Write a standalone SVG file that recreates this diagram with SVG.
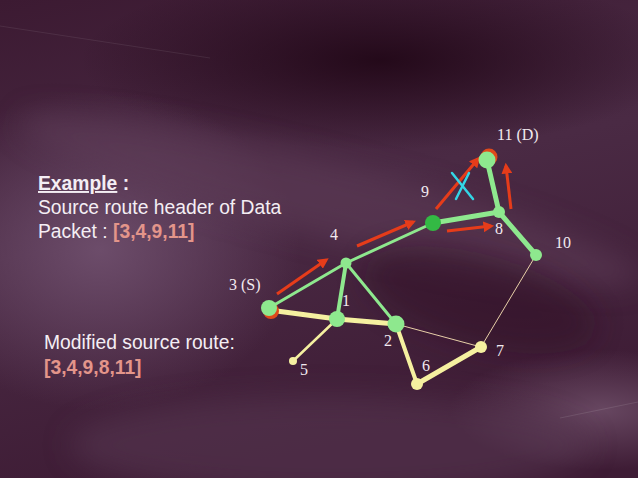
<svg xmlns="http://www.w3.org/2000/svg" width="638" height="478" viewBox="0 0 638 478">
  <defs>
    <style>
      .lbl { font-family: "Liberation Serif", "DejaVu Serif", serif; font-size: 16px; fill: #f2eaf0; }
      .txt { font-family: "Liberation Sans", Arial, sans-serif; font-size: 19.3px; fill: #f4eef4; }
      .hl { font-weight: bold; fill: #e3958a; }
      .g { stroke: #8ee88e; stroke-linecap: round; fill: none; }
      .y { stroke: #f5f0a0; stroke-linecap: round; fill: none; }
      .thin { stroke: #e8d0a8; stroke-width: 1; fill: none; }
      .arr { stroke: #e63c1a; stroke-width: 3; fill: none; marker-end: url(#ah); }
      .ng { fill: #8ee88e; }
      .ny { fill: #f5f0a0; }
    </style>
    <marker id="ah" viewBox="0 0 10 10" refX="7" refY="5" markerWidth="3.6" markerHeight="3.6" orient="auto" markerUnits="strokeWidth">
      <path d="M0,0 L10,5 L0,10 z" fill="#e63c1a"/>
    </marker>
    <linearGradient id="bg" x1="0" y1="0" x2="0.3" y2="1">
      <stop offset="0" stop-color="#3c1a32"/>
      <stop offset="0.5" stop-color="#4a2a44"/>
      <stop offset="1" stop-color="#3e1c35"/>
    </linearGradient>
    <radialGradient id="lightL" cx="0.5" cy="0.5" r="0.5">
      <stop offset="0" stop-color="#6e4e6c" stop-opacity="0.95"/>
      <stop offset="1" stop-color="#6e4e6c" stop-opacity="0"/>
    </radialGradient>
    <radialGradient id="darkT" cx="0.5" cy="0.5" r="0.5">
      <stop offset="0" stop-color="#220818" stop-opacity="0.95"/>
      <stop offset="1" stop-color="#220818" stop-opacity="0"/>
    </radialGradient>
    <radialGradient id="lightBR" cx="0.5" cy="0.5" r="0.5">
      <stop offset="0" stop-color="#6c4c66" stop-opacity="0.9"/>
      <stop offset="1" stop-color="#6c4c66" stop-opacity="0"/>
    </radialGradient>
    <filter id="blur" x="-50%" y="-50%" width="200%" height="200%">
      <feGaussianBlur stdDeviation="14"/>
    </filter>
  </defs>

  <g id="background">
    <rect width="638" height="478" fill="url(#bg)"/>
    <ellipse cx="380" cy="60" rx="300" ry="90" fill="url(#darkT)"/>
    <ellipse cx="100" cy="250" rx="200" ry="160" fill="url(#lightL)"/>
    <ellipse cx="330" cy="200" rx="320" ry="38" fill="#5e3e58" opacity="0.55" filter="url(#blur)" transform="rotate(14 330 200)"/>
    <ellipse cx="600" cy="410" rx="150" ry="60" fill="url(#lightBR)"/>
    <ellipse cx="330" cy="445" rx="260" ry="50" fill="#5a3a55" opacity="0.5" filter="url(#blur)"/>
    <ellipse cx="480" cy="300" rx="120" ry="45" fill="#2e1024" opacity="0.45" filter="url(#blur)" transform="rotate(15 480 300)"/>
    <line x1="0" y1="26" x2="210" y2="58" stroke="#ffffff" stroke-opacity="0.08" stroke-width="1.2"/>
    <line x1="560" y1="418" x2="638" y2="402" stroke="#ffffff" stroke-opacity="0.1" stroke-width="1.2"/>
  </g>

  <g id="connectors">
    <line class="thin" x1="396" y1="324" x2="481" y2="347"/>
    <line class="thin" x1="481" y1="347" x2="536" y2="255"/>
    <line class="y" x1="269" y1="310" x2="337" y2="319" stroke-width="5"/>
    <line class="y" x1="337" y1="319" x2="396" y2="324" stroke-width="5"/>
    <line class="y" x1="337" y1="319" x2="293" y2="361" stroke-width="2.5"/>
    <line class="y" x1="396" y1="324" x2="417" y2="384" stroke-width="4"/>
    <line class="y" x1="417" y1="384" x2="481" y2="347" stroke-width="5"/>
    <line class="g" x1="269" y1="308" x2="346" y2="263" stroke-width="3"/>
    <line class="g" x1="346" y1="263" x2="433" y2="223" stroke-width="3"/>
    <line class="g" x1="346" y1="263" x2="337" y2="319" stroke-width="4"/>
    <line class="g" x1="346" y1="263" x2="396" y2="324" stroke-width="3"/>
    <line class="g" x1="433" y1="223" x2="499" y2="212" stroke-width="5"/>
    <line class="g" x1="499" y1="212" x2="487" y2="160" stroke-width="5"/>
    <line class="g" x1="499" y1="212" x2="536" y2="255" stroke-width="5"/>
    <line class="arr" x1="277" y1="294" x2="326" y2="260"/>
    <line class="arr" x1="357" y1="246" x2="413" y2="222"/>
    <line class="arr" x1="447" y1="231" x2="491" y2="226"/>
    <line class="arr" x1="436" y1="209" x2="478" y2="159"/>
    <line class="arr" x1="511" y1="209" x2="506" y2="166"/>
    <g id="cross" stroke="#33d6e6" stroke-width="2.5" stroke-linecap="round">
      <line x1="452" y1="173" x2="473" y2="199"/>
      <line x1="469" y1="173" x2="456" y2="199"/>
    </g>
  </g>

  <g id="n3"><circle cx="271" cy="311" r="8" fill="#e04a1a"/><circle class="ng" cx="269" cy="308" r="8"/><text class="lbl" x="229" y="290">3 (S)</text></g>
  <g id="n4"><circle class="ng" cx="346" cy="263" r="5.5"/><text class="lbl" x="330" y="240">4</text></g>
  <g id="n1"><circle class="ng" cx="337" cy="319" r="8"/><text class="lbl" x="342" y="306">1</text></g>
  <g id="n2"><circle class="ng" cx="396" cy="324" r="8.5"/><text class="lbl" x="384" y="346">2</text></g>
  <g id="n9"><circle cx="433" cy="223" r="8" fill="#33b944"/><text class="lbl" x="421" y="197">9</text></g>
  <g id="n8"><circle class="ng" cx="499" cy="212" r="6"/><text class="lbl" x="495" y="234">8</text></g>
  <g id="n11"><circle cx="489" cy="157" r="8.5" fill="#e04a1a"/><circle class="ng" cx="487" cy="160" r="8.5"/><text class="lbl" x="497" y="140">11 (D)</text></g>
  <g id="n10"><circle class="ng" cx="536" cy="255" r="6"/><text class="lbl" x="555" y="248">10</text></g>
  <g id="n7"><circle class="ny" cx="481" cy="347" r="6"/><text class="lbl" x="496" y="356">7</text></g>
  <g id="n6"><circle class="ny" cx="417" cy="384" r="6"/><text class="lbl" x="422" y="371">6</text></g>
  <g id="n5"><circle class="ny" cx="293" cy="361" r="4"/><text class="lbl" x="300" y="375">5</text></g>

  <g id="text-left">
    <text class="txt" x="38" y="190"><tspan font-weight="bold" text-decoration="underline">Example</tspan><tspan font-weight="bold"> :</tspan></text>
    <text class="txt" x="38" y="214">Source route header of Data</text>
    <text class="txt" x="38" y="238">Packet : <tspan class="hl">[3,4,9,11]</tspan></text>
    <text class="txt" x="44" y="349">Modified source route:</text>
    <text class="txt hl" x="44" y="374">[3,4,9,8,11]</text>
  </g>
</svg>
